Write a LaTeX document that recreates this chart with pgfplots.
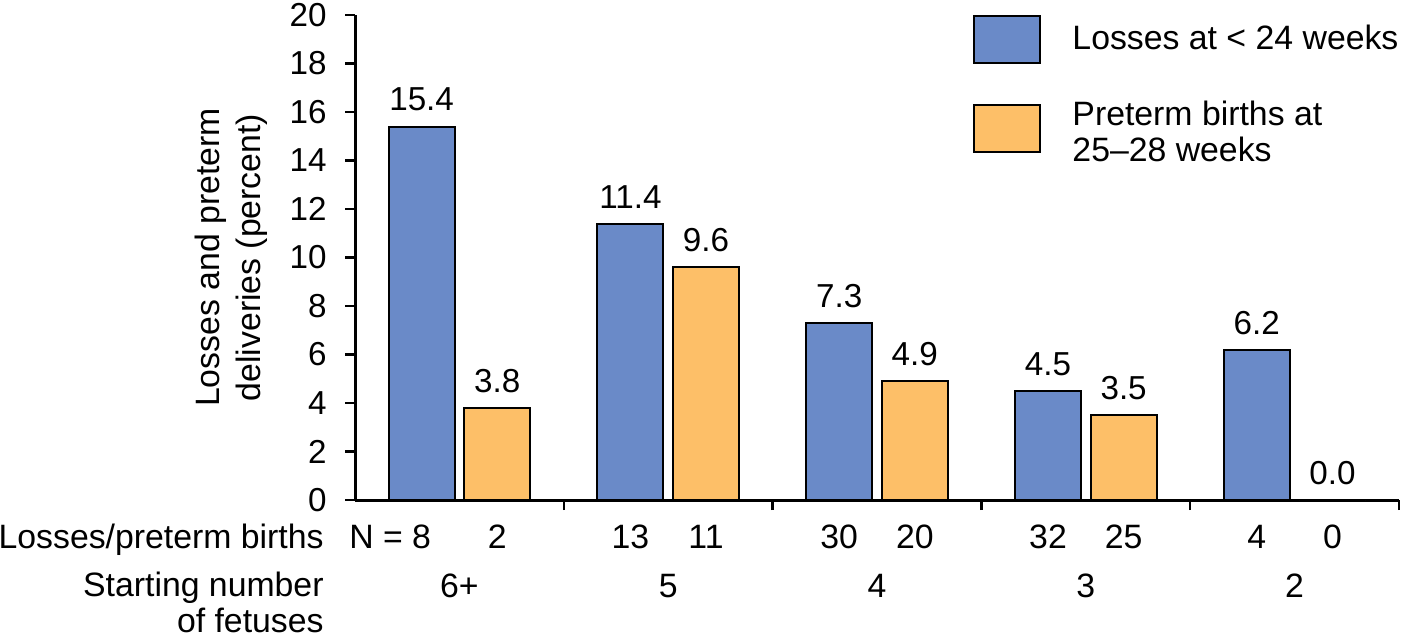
\documentclass[border=0pt]{standalone}
\usepackage{fontspec}
\setmainfont{Liberation Sans}
\usepackage{pgfplots}
\pgfplotsset{compat=1.18}
\definecolor{bblue}{HTML}{6A8AC8}
\definecolor{borange}{HTML}{FDBF68}
\begin{document}
\fontsize{16.9pt}{19pt}\selectfont
\begin{tikzpicture}
\begin{axis}[
  name=ax,
  scale only axis, width=522pt, height=242.5pt,
  xmin=-0.5, xmax=4.5, ymin=0, ymax=20,
  ytick={0,2,...,20},
  xtick={0.5,1.5,2.5,3.5,4.5}, xticklabels={},
  axis x line*=bottom, axis y line*=left,
  tick align=outside,
  major tick length=5pt,
  axis line style={line width=1.5pt},
  tick style={line width=1.2pt, black},
  /pgf/number format/assume math mode=true,
  yticklabel style={inner sep=0pt, xshift=-9pt, font=\fontsize{16.6pt}{19pt}\selectfont},
  ybar, bar width=33pt,
  clip=false,
  nodes near coords={\pgfmathprintnumber[fixed,fixed zerofill,precision=1]{\pgfplotspointmeta}},
  every node near coord/.append style={yshift=1.5pt, black, font=\fontsize{16.6pt}{19pt}\selectfont},
  legend cell align=left,
  legend style={at={(0.5920,1)}, anchor=north west, draw=none, fill=none,
    inner sep=0pt, row sep=18.25pt, nodes={inner sep=0pt}},
]
\addplot[fill=bblue, draw=black, line width=1pt, bar shift=-18.9pt,
  legend image code/.code={\draw[fill=bblue,draw=black,line width=1pt] (0pt,-11.75pt) rectangle (33pt,11.75pt); \path[draw=none,fill=none] (33pt,0pt) rectangle (49pt,0.1pt);}]
  coordinates {(0,15.4) (1,11.4) (2,7.3) (3,4.5) (4,6.2)};
\addlegendentry{Losses at < 24 weeks}
\addplot[fill=borange, draw=black, line width=1pt, bar shift=18.9pt,
  legend image code/.code={\draw[fill=borange,draw=black,line width=1pt] (0pt,-9.25pt) rectangle (33pt,14.25pt); \path[draw=none,fill=none] (33pt,-14.75pt) rectangle (49pt,14.75pt);}]
  coordinates {(0,3.8) (1,9.6) (2,4.9) (3,3.5) (4,0.0)};
\addlegendentry[align=left, font=\fontsize{16.9pt}{18pt}\selectfont]{Preterm births at\\25--28 weeks}
% count labels
\node[anchor=base] at ([xshift=-18.9pt,yshift=-24pt]axis cs:0,0) {\llap{N = }8};
\node[anchor=base] at ([xshift=18.9pt,yshift=-24pt]axis cs:0,0) {2};
\node[anchor=base] at ([xshift=-18.9pt,yshift=-24pt]axis cs:1,0) {13};
\node[anchor=base] at ([xshift=18.9pt,yshift=-24pt]axis cs:1,0) {11};
\node[anchor=base] at ([xshift=-18.9pt,yshift=-24pt]axis cs:2,0) {30};
\node[anchor=base] at ([xshift=18.9pt,yshift=-24pt]axis cs:2,0) {20};
\node[anchor=base] at ([xshift=-18.9pt,yshift=-24pt]axis cs:3,0) {32};
\node[anchor=base] at ([xshift=18.9pt,yshift=-24pt]axis cs:3,0) {25};
\node[anchor=base] at ([xshift=-18.9pt,yshift=-24pt]axis cs:4,0) {4};
\node[anchor=base] at ([xshift=18.9pt,yshift=-24pt]axis cs:4,0) {0};
% group labels
\node[anchor=base] at ([yshift=-48.5pt]axis cs:0,0) {6+};
\node[anchor=base] at ([yshift=-48.5pt]axis cs:1,0) {5};
\node[anchor=base] at ([yshift=-48.5pt]axis cs:2,0) {4};
\node[anchor=base] at ([yshift=-48.5pt]axis cs:3,0) {3};
\node[anchor=base] at ([yshift=-48.5pt]axis cs:4,0) {2};
\end{axis}
\node[anchor=base east, inner sep=0pt] at ([xshift=-15.5pt,yshift=-24pt]ax.south west) {Losses/preterm births};
\node[anchor=base east, inner sep=0pt] at ([xshift=-15.5pt,yshift=-48pt]ax.south west) {Starting number};
\node[anchor=base east, inner sep=0pt] at ([xshift=-15.5pt,yshift=-66pt]ax.south west) {of fetuses};
\node[rotate=90, anchor=base, inner sep=0pt] at ([xshift=-68pt]ax.west) {Losses and preterm};
\node[rotate=90, anchor=base, inner sep=0pt] at ([xshift=-47.5pt]ax.west) {deliveries (percent)};
\pgfresetboundingbox
\path ([shift={(-177.5pt,-69.5pt)}]ax.south west) rectangle ([shift={(2pt,7.5pt)}]ax.north east);
\end{tikzpicture}
\end{document}
